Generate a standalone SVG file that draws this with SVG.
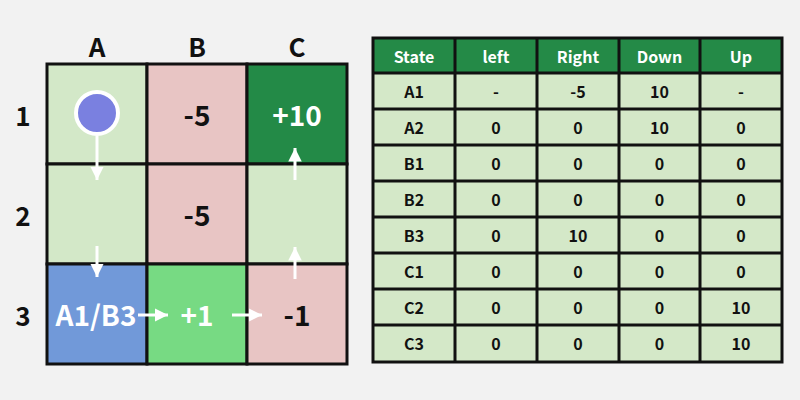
<svg xmlns="http://www.w3.org/2000/svg" width="800" height="400" viewBox="0 0 800 400">
<defs>
<style>
.t{font-family:"Noto Sans CJK SC","Noto Sans",sans-serif;font-weight:700;text-anchor:middle;dominant-baseline:central}
.lab{font-size:26px;fill:#111}
.cv{font-size:28px}
.tb{font-size:16px;fill:#111}
.th{font-size:16px;fill:#fff}
.cell{stroke:#111;stroke-width:3}
.ln{stroke:#fff;stroke-width:3;fill:none}
</style>
<marker id="ar" viewBox="0 0 10 10" refX="10" refY="5" markerWidth="4.5" markerHeight="4.5" orient="auto" markerUnits="strokeWidth">
<path d="M0,0 L10,5 L0,10 Z" fill="#fff"/>
</marker>
</defs>
<rect width="800" height="400" fill="#f2f2f2"/>
<g id="grid-labels">
<text class="t lab" x="97" y="45">A</text>
<text class="t lab" x="197" y="45">B</text>
<text class="t lab" x="297" y="45">C</text>
<text class="t lab" x="23" y="114">1</text>
<text class="t lab" x="23" y="214">2</text>
<text class="t lab" x="23" y="314">3</text>
</g>
<g id="A1"><rect class="cell" x="47" y="64" width="100" height="100" fill="#d3e8c8"/></g>
<g id="B1"><rect class="cell" x="147" y="64" width="100" height="100" fill="#e8c5c4"/><text class="t cv" x="197" y="114" fill="#111">-5</text></g>
<g id="C1"><rect class="cell" x="247" y="64" width="100" height="100" fill="#238a47"/><text class="t cv" x="297" y="114" fill="#fff">+10</text></g>
<g id="A2"><rect class="cell" x="47" y="164" width="100" height="100" fill="#d3e8c8"/></g>
<g id="B2"><rect class="cell" x="147" y="164" width="100" height="100" fill="#e8c5c4"/><text class="t cv" x="197" y="214" fill="#111">-5</text></g>
<g id="C2"><rect class="cell" x="247" y="164" width="100" height="100" fill="#d3e8c8"/></g>
<g id="A3"><rect class="cell" x="47" y="264" width="100" height="100" fill="#7199d9"/><text class="t cv" x="96" y="314" fill="#fff">A1/B3</text></g>
<g id="B3"><rect class="cell" x="147" y="264" width="100" height="100" fill="#77da83"/><text class="t cv" x="197" y="314" fill="#fff">+1</text></g>
<g id="C3"><rect class="cell" x="247" y="264" width="100" height="100" fill="#e8c5c4"/><text class="t cv" x="297" y="314" fill="#111">-1</text></g>
<g id="agent"><circle cx="97" cy="113" r="21" fill="#7a80e0" stroke="#fff" stroke-width="4"/></g>
<g id="connectors">
<line class="ln" x1="97" y1="136" x2="97" y2="180" marker-end="url(#ar)"/>
<line class="ln" x1="97" y1="246" x2="97" y2="277" marker-end="url(#ar)"/>
<line class="ln" x1="295" y1="279" x2="295" y2="247" marker-end="url(#ar)"/>
<line class="ln" x1="295" y1="180" x2="295" y2="148" marker-end="url(#ar)"/>
<line class="ln" x1="138" y1="315" x2="168" y2="315" marker-end="url(#ar)"/>
<line class="ln" x1="232" y1="315" x2="262" y2="315" marker-end="url(#ar)"/>
</g>
<g id="table">
<rect x="373" y="38" width="409" height="324" fill="#d4e8c8"/>
<rect x="373" y="38" width="409" height="35" fill="#248a47"/>
<g stroke="#111" stroke-width="3" fill="none">
<rect x="373" y="38" width="409" height="324"/>
<path d="M455,38V362M537,38V362M619,38V362M700,38V362"/>
<path d="M373,73H782M373,109H782M373,145H782M373,181H782M373,217H782M373,253H782M373,289H782M373,325H782"/>
</g>
<g class="t th">
<text x="414" y="55.5">State</text><text x="496" y="55.5">left</text><text x="578" y="55.5">Right</text><text x="659.5" y="55.5">Down</text><text x="741" y="55.5">Up</text>
</g>
<g class="t tb">
<text x="414" y="91">A1</text><text x="496" y="91">-</text><text x="578" y="91">-5</text><text x="659.5" y="91">10</text><text x="741" y="91">-</text>
<text x="414" y="127">A2</text><text x="496" y="127">0</text><text x="578" y="127">0</text><text x="659.5" y="127">10</text><text x="741" y="127">0</text>
<text x="414" y="163">B1</text><text x="496" y="163">0</text><text x="578" y="163">0</text><text x="659.5" y="163">0</text><text x="741" y="163">0</text>
<text x="414" y="199">B2</text><text x="496" y="199">0</text><text x="578" y="199">0</text><text x="659.5" y="199">0</text><text x="741" y="199">0</text>
<text x="414" y="235">B3</text><text x="496" y="235">0</text><text x="578" y="235">10</text><text x="659.5" y="235">0</text><text x="741" y="235">0</text>
<text x="414" y="271">C1</text><text x="496" y="271">0</text><text x="578" y="271">0</text><text x="659.5" y="271">0</text><text x="741" y="271">0</text>
<text x="414" y="307">C2</text><text x="496" y="307">0</text><text x="578" y="307">0</text><text x="659.5" y="307">0</text><text x="741" y="307">10</text>
<text x="414" y="343">C3</text><text x="496" y="343">0</text><text x="578" y="343">0</text><text x="659.5" y="343">0</text><text x="741" y="343">10</text>
</g>
</g>
</svg>
